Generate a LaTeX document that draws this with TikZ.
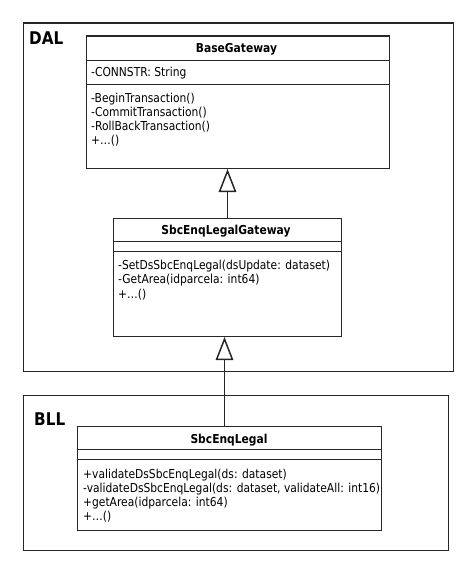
\documentclass[tikz,border=0pt]{standalone}
\usepackage{fontspec}
\setmainfont{DejaVu Sans}[FakeStretch=0.87]
\usetikzlibrary{arrows.meta}
\begin{document}
\begin{tikzpicture}[x=1pt,y=-1pt,
  frame/.style={draw=black!85, line width=1.7pt, inner sep=0pt, anchor=north west},
  cls/.style={draw=black!85, line width=1.5pt, fill=white, inner sep=0pt, anchor=north west},
  div/.style={draw=black!85, line width=1.5pt},
  txt/.style={anchor=base west, inner sep=0pt, font=\fontsize{12.3}{14}\selectfont},
  ttl/.style={anchor=base, inner sep=0pt, font=\fontsize{12.3}{14}\selectfont\bfseries},
  pkg/.style={anchor=base west, inner sep=0pt, font=\fontsize{17.5}{20}\selectfont\bfseries},
  gen/.style={draw=black!85, line width=1.5pt, -{Triangle[open, width=17.5pt, length=23pt, line width=1.5pt]}}
]
\useasboundingbox (0,0) rectangle (474,572);
% packages
\node[frame, minimum width=430pt, minimum height=348pt] (dal) at (22.5,22.5) {};
\node[pkg] (dallbl) at (29,45) {DAL};
\node[frame, minimum width=425pt, minimum height=155pt] (bll) at (22.5,394.5) {};
\node[pkg] (blllbl) at (34,425.7) {BLL};

% BaseGateway
\node[cls, minimum width=303pt, minimum height=132pt] (bgw) at (85.5,35.5) {};
\draw[div] (bgw.west |- 0,60.5) -- (bgw.east |- 0,60.5);
\draw[div] (bgw.west |- 0,84.5) -- (bgw.east |- 0,84.5);
\node[ttl] (bgwt) at (236.5,52.5) {BaseGateway};
\node[txt] (bgwa) at (91,76.7) {-CONNSTR: String};
\node[txt] (bgwm1) at (91,103) {-BeginTransaction()};
\node[txt] (bgwm2) at (91,116.7) {-CommitTransaction()};
\node[txt] (bgwm3) at (91,130.4) {-RollBackTransaction()};
\node[txt] (bgwm4) at (91,144.1) {+\dots()};

% SbcEnqLegalGateway
\node[cls, minimum width=228pt, minimum height=118pt] (sgw) at (112.5,217.5) {};
\draw[div] (sgw.west |- 0,241.5) -- (sgw.east |- 0,241.5);
\draw[div] (sgw.west |- 0,251.5) -- (sgw.east |- 0,251.5);
\node[ttl] (sgwt) at (226,234.5) {SbcEnqLegalGateway};
\node[txt] (sgwm1) at (118,269) {-SetDsSbcEnqLegal(dsUpdate: dataset)};
\node[txt] (sgwm2) at (118,283.5) {-GetArea(idparcela: int64)};
\node[txt] (sgwm3) at (118,298) {+\dots()};

% SbcEnqLegal
\node[cls, minimum width=304pt, minimum height=104pt] (sel) at (76.5,425.5) {};
\draw[div] (sel.west |- 0,449.5) -- (sel.east |- 0,449.5);
\draw[div] (sel.west |- 0,459.5) -- (sel.east |- 0,459.5);
\node[ttl] (selt) at (229,443.5) {SbcEnqLegal};
\node[txt] (selm1) at (83,478) {+validateDsSbcEnqLegal(ds: dataset)};
\node[txt] (selm2) at (83,492) {-validateDsSbcEnqLegal(ds: dataset, validateAll: int16)};
\node[txt] (selm3) at (83,506) {+getArea(idparcela: int64)};
\node[txt] (selm4) at (83,520) {+\dots()};

% generalizations
\coordinate (x1) at (227.5,0);
\coordinate (x2) at (224.5,0);
\draw[gen] (sgw.north -| x1) -- (bgw.south -| x1);
\draw[gen] (sel.north -| x2) -- (sgw.south -| x2);
\end{tikzpicture}
\end{document}
